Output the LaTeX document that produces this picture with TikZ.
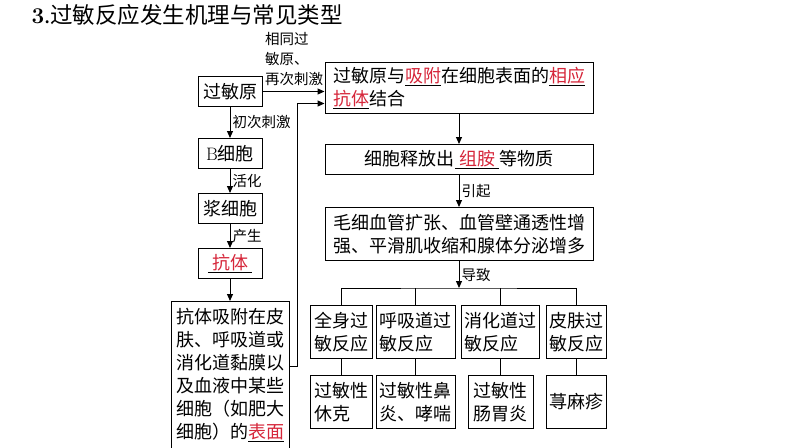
\documentclass[tikz,border=0pt]{standalone}
\usepackage{fontspec}
\newfontfamily\cjk{Noto Sans CJK SC}
\usetikzlibrary{arrows.meta,positioning}
\definecolor{ansred}{RGB}{214,38,58}
\newcommand{\ans}[1]{\underline{\textcolor{ansred}{#1}}}
\newcommand{\blank}[1]{\underline{\ \textcolor{ansred}{#1}\ }}
\tikzset{
  >={Triangle[length=7pt,width=6pt]},
  every node/.style={anchor=north}
}
\tikzset{box/.style={
    draw,
    fill=white,
    minimum width=#1,
    minimum height=30pt,
    inner xsep=3pt,
    inner ysep=3pt,
    align=left,
    font=\cjk\fontsize{18}{23}\selectfont
  },
  box/.default=64pt}
\tikzset{lbl/.style={
    inner sep=2pt,
    align=left,
    font=\cjk\fontsize{14.5}{20}\selectfont
  }}

\begin{document}
\begin{tikzpicture}[x=1pt,y=-1pt,line width=1pt]
  \useasboundingbox (0,0) rectangle (794,447);
  \node (Title) [anchor=west,inner sep=1pt,font=\cjk\fontsize{22.5}{26}\selectfont] at (30,15)
  {\textbf{\textrm{3}}.过敏反应发生机理与常见类型};

  \node (Antigen) [box] at (230,76) {过敏原};
  \node (Bcell) [box,below=31pt of Antigen] {\textrm{B}细胞};
  \node (Plasma) [box,below=24pt of Bcell] {浆细胞};
  \node (Antibody) [box,below=24pt of Plasma] {\blank{抗体}};
  \node (Surface) [box=118pt,minimum height=147pt,below=22pt of Antibody]
  {抗体吸附在皮\\肤、呼吸道或\\消化道黏膜以\\及血液中某些\\细胞（如肥大\\细胞）的\ans{表面}};

  \node (Bind) [box=268pt,minimum height=51pt] at (459,62)
  {过敏原与\ans{吸附}在细胞表面的\ans{相应}\\\ans{抗体}结合};
  \node (Release) [box=268pt,below=30pt of Bind] {细胞释放出\blank{组胺}等物质};
  \node (Effect) [box=268pt,minimum height=53pt,below=32pt of Release]
  {毛细血管扩张、血管壁通透性增\\强、平滑肌收缩和腺体分泌增多};

  \coordinate (Split) at (459,288);
  \node (Systemic) [box=62pt,minimum height=53pt] at (341,305) {全身过\\敏反应};
  \node (Airway) [box=79pt,minimum height=53pt] at (415.5,305) {呼吸道过\\敏反应};
  \node (Gut) [box=77pt,minimum height=53pt] at (500.5,305) {消化道过\\敏反应};
  \node (Skin) [box=60pt,minimum height=53pt] at (576,305) {皮肤过\\敏反应};

  \node (Shock) [box=62pt,minimum height=53pt,below=16pt of Systemic] {过敏性\\休克};
  \node (Rhinitis) [box=79pt,minimum height=53pt,below=16pt of Airway] {过敏性鼻\\炎、哮喘};
  \node (Enteritis) [box=65pt,minimum height=53pt,below=16pt of Gut] {过敏性\\肠胃炎};
  \node (Urticaria) [box=60pt,minimum height=53pt,below=16pt of Skin] {荨麻疹};

  \draw [->] (Antigen) -- node [lbl,right] {初次刺激} (Bcell);
  \draw [->] (Bcell) -- node [lbl,right] {活化} (Plasma);
  \draw [->] (Plasma) -- node [lbl,right] {产生} (Antibody);
  \draw [->] (Antibody) -- (Surface);

  \draw [->] (Antigen.east) -- (Antigen.east-|Bind.west)
  node [lbl,pos=0,anchor=south west,yshift=3pt] {相同过\\敏原、\\再次刺激};
  \draw [->] ([yshift=8.5pt] Surface.east) -- ++(8,0)
  |- ([yshift=-15.5pt] Bind.west);

  \draw [->] (Bind) -- (Release);
  \draw [->] (Release) -- node [lbl,right] {引起} (Effect);
  \draw [->] (Effect) -- node [lbl,right] {导致} (Split);

  \draw (Systemic.north) |- (Split) -| (Skin.north);
  \draw (Airway.north) -- (Airway.north|-Split);
  \draw (Gut.north) -- (Gut.north|-Split);

  \draw (Systemic) -- (Shock);
  \draw (Airway) -- (Rhinitis);
  \draw (Gut) -- (Enteritis);
  \draw (Skin) -- (Urticaria);
\end{tikzpicture}
\end{document}
